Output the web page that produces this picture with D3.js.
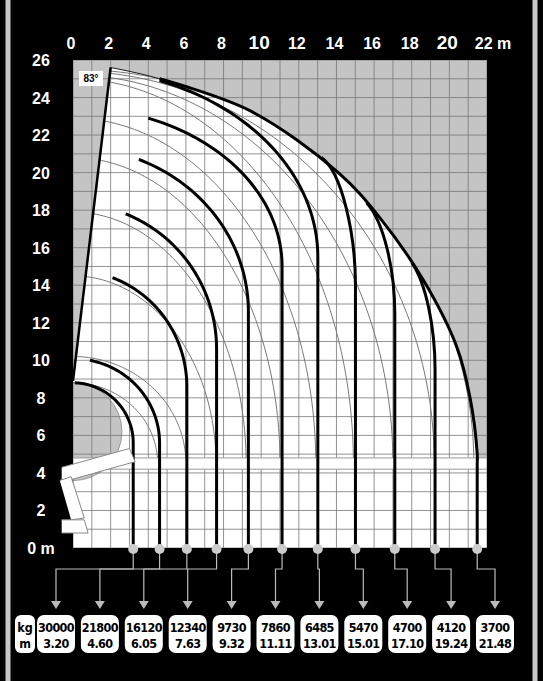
<!DOCTYPE html>
<html><head><meta charset="utf-8">
<script src="https://cdn.jsdelivr.net/npm/d3@7"></script>
<style>body{margin:0;background:#000}</style>
</head><body>
<script>
// load chart data (radius m, load kg)
var loads = [30000, 21800, 16120, 12340, 9730, 7860, 6485, 5470, 4700, 4120, 3700];
var radii = [3.20, 4.60, 6.05, 7.63, 9.32, 11.11, 13.01, 15.01, 17.10, 19.24, 21.48];
// where each thick curve starts (x, y) and where it turns vertical (y)
var startX = [0.1, 0.9, 2.1, 2.8, 3.5, 4.0, 4.6, 13.2, 15.6, 18.0, 4.6];
var startY = [8.8, 10.0, 14.4, 17.8, 20.7, 22.9, 24.9, 20.8, 18.4, 15.2, 25.0];
var kneeY  = [5.6, 5.6, 8.6, 10.6, 12.6, 15.0, 15.5, 14.0, 12.5, 9.5, 4.5];
// outer envelope (x, y)
var envX = [2.0, 4.6, 9.4, 14.1, 16.3, 18.6, 20.4, 21.1, 21.48, 21.48];
var envY = [25.6, 25.0, 23.3, 20.0, 17.6, 14.3, 10.7, 8.0, 5.0, 4.5];
// thin boom-length arcs: top height, reach at band height
var arcTop = [8.8, 10.2, 14.5, 17.9, 20.8, 22.9, 25.0, 25.2, 25.4, 25.5];
var arcReach = [4.5, 6.0, 7.6, 9.2, 11.0, 12.9, 14.9, 17.0, 19.2, 21.3];
var xTicks = [0, 2, 4, 6, 8, 10, 12, 14, 16, 18, 20, 22];
var yTicks = [26, 24, 22, 20, 18, 16, 14, 12, 10, 8, 6, 4, 2, 0];
var boomTip = [2.0, 25.6], boomBase = [0, 8.9], bandY = 4.5;

var W = 543, H = 681;
var svg = d3.select("body").append("svg").attr("width", W).attr("height", H);
svg.append("rect").attr("width", W).attr("height", H).attr("fill", "#000");
svg.append("rect").attr("x", 8).attr("y", -5).attr("width", 527).attr("height", H + 10)
  .attr("fill", "none").attr("stroke", "#c8c8c8").attr("stroke-width", 5);

var x = d3.scaleLinear().domain([0, 22]).range([73, 487]);
var y = d3.scaleLinear().domain([0, 26]).range([548, 60]);

function ellipse(cx, cy, rx, ry, a0, a1, n) {
  var pts = [];
  for (var i = 0; i <= n; i++) {
    var a = a0 + (a1 - a0) * i / n;
    pts.push([cx + rx * Math.cos(a), cy + ry * Math.sin(a)]);
  }
  return pts;
}
var line = d3.line().x(function (d) { return x(d[0]); }).y(function (d) { return y(d[1]); });
var curve = d3.line().x(function (d) { return x(d[0]); }).y(function (d) { return y(d[1]); })
  .curve(d3.curveCatmullRom);
var env = envX.map(function (v, i) { return [v, envY[i]]; });
var envPath = curve(env);
var areaPath = "M" + x(0) + "," + y(0) + "L" + x(boomBase[0]) + "," + y(boomBase[1]) +
  "L" + envPath.slice(1) + "L" + x(22) + "," + y(bandY) + "L" + x(22) + "," + y(0) + "Z";

var defs = svg.append("defs");
defs.append("clipPath").attr("id", "plot").append("rect")
  .attr("x", x(0)).attr("y", y(26)).attr("width", x(22) - x(0)).attr("height", y(0) - y(26));
defs.append("clipPath").attr("id", "work").append("path").attr("d", areaPath);
var plot = svg.append("g").attr("clip-path", "url(#plot)");

// grey background + white working area
plot.append("rect").attr("x", x(0)).attr("y", y(26)).attr("width", x(22) - x(0))
  .attr("height", y(0) - y(26)).attr("fill", "#c4c4c4");
plot.append("path").attr("d", areaPath).attr("fill", "#fff");
// counterweight
plot.append("circle").attr("cx", x(0)).attr("cy", y(6.2)).attr("r", x(2.6) - x(0))
  .attr("fill", "#c4c4c4").attr("stroke", "#999");

// grid
var g = plot.append("g").attr("stroke", "#777").attr("stroke-width", 0.8);
d3.range(0, 23).forEach(function (v) {
  g.append("line").attr("x1", x(v)).attr("x2", x(v)).attr("y1", y(26)).attr("y2", y(0));
});
d3.range(0, 27).forEach(function (v) {
  g.append("line").attr("x1", x(0)).attr("x2", x(22)).attr("y1", y(v)).attr("y2", y(v));
});

// thin arcs
var work = plot.append("g").attr("clip-path", "url(#work)");
arcTop.forEach(function (t, i) {
  var pts = ellipse(0, bandY, arcReach[i], t - bandY, Math.PI / 2, 0, 80);
  work.append("path").attr("d", line(pts)).attr("fill", "none").attr("stroke", "#777").attr("stroke-width", 1);
});
plot.append("path").attr("d", envPath).attr("fill", "none").attr("stroke", "#222").attr("stroke-width", 1.2);

// band at 4.5 m
plot.append("rect").attr("x", x(0)).attr("y", y(bandY + 0.3)).attr("width", x(22) - x(0))
  .attr("height", y(bandY - 0.3) - y(bandY + 0.3)).attr("fill", "#fff").attr("stroke", "#999");

// boom line
svg.append("path").attr("d", line([boomBase, boomTip])).attr("stroke", "#000").attr("stroke-width", 2.5);

// thick load curves
function envSlope(px) {
  var i = d3.bisectLeft(envX, px);
  i = Math.max(1, Math.min(envX.length - 2, i));
  return (envY[i] - envY[i - 1]) / (envX[i] - envX[i - 1]);
}
radii.forEach(function (r, i) {
  var d;
  if (i === radii.length - 1) {
    d = curve(env.filter(function (p) { return p[0] >= startX[i]; }));
    d += "L" + x(r) + "," + y(0);
  } else if (startX[i] > 10) {
    var s = envSlope(startX[i]);
    var dx = 0.6 * (r - startX[i]);
    var p1 = [startX[i] + dx, Math.max(kneeY[i] + 1, startY[i] + s * dx)];
    var p2 = [r, kneeY[i] + 0.4 * (startY[i] - kneeY[i])];
    var p = d3.path();
    p.moveTo(x(startX[i]), y(startY[i]));
    p.bezierCurveTo(x(p1[0]), y(p1[1]), x(p2[0]), y(p2[1]), x(r), y(kneeY[i]));
    p.lineTo(x(r), y(0));
    d = p.toString();
  } else {
    var a0 = Math.acos(Math.min(1, startX[i] / r));
    var ry = (startY[i] - kneeY[i]) / Math.sin(a0);
    var pts = ellipse(0, kneeY[i], r, ry, a0, 0, 50);
    pts.push([r, 0]);
    d = line(pts);
  }
  svg.append("path").attr("d", d).attr("fill", "none").attr("stroke", "#000").attr("stroke-width", 3);
});

// crane silhouette
svg.append("path").attr("d", line([[-0.6, 3.5], [3.3, 4.6], [3.0, 5.3], [-0.6, 4.3]])).attr("fill", "#fff").attr("stroke", "#888");
svg.append("path").attr("d", line([[-0.7, 3.6], [-0.1, 3.8], [0.6, 1.6], [-0.1, 1.5]])).attr("fill", "#fff").attr("stroke", "#888");
svg.append("path").attr("d", line([[-0.6, 1.5], [0.6, 1.5], [0.8, 0.8], [-0.6, 0.8]])).attr("fill", "#fff").attr("stroke", "#888");

// 83 deg label
svg.append("rect").attr("x", 79).attr("y", 71).attr("width", 24).attr("height", 15).attr("fill", "#fff");
svg.append("text").attr("x", 91).attr("y", 82).attr("text-anchor", "middle")
  .attr("font-family", "Liberation Sans").attr("font-weight", "bold").attr("font-size", 10).text("83°");

// axis labels
var lab = svg.append("g").attr("fill", "#fff").attr("font-family", "Liberation Sans")
  .attr("font-weight", "bold").attr("text-anchor", "middle");
xTicks.forEach(function (v) {
  lab.append("text").attr("x", x(v) - 2 + (v === 22 ? 8 : 0)).attr("y", 49)
    .attr("font-size", v >= 10 && v % 10 === 0 ? 19 : 16).text(v === 22 ? "22 m" : v);
});
yTicks.forEach(function (v) {
  lab.append("text").attr("x", 41).attr("y", y(v) + 6).attr("font-size", 16)
    .text(v === 0 ? "0 m" : v);
});

// connectors and boxes
var boxFont = "DejaVu Sans Condensed";
var boxX = d3.scaleLinear().domain([0, 10]).range([56, 495]);
radii.forEach(function (r, i) {
  var cx = x(r), bx = boxX(i), yk = 569;
  svg.append("path").attr("d", "M" + cx + "," + 550 + "V" + yk + "H" + bx + "V" + 606)
    .attr("fill", "none").attr("stroke", "#bbb").attr("stroke-width", 1.2);
  svg.append("path").attr("d", "M" + (bx - 5) + ",601L" + (bx + 5) + ",601L" + bx + ",609Z").attr("fill", "#bbb");
  svg.append("circle").attr("cx", cx).attr("cy", 549).attr("r", 5).attr("fill", "#ccc");
  svg.append("rect").attr("x", bx - 19).attr("y", 615).attr("width", 38).attr("height", 38)
    .attr("rx", 7).attr("fill", "#fff");
  var t = svg.append("g").attr("font-family", boxFont).attr("font-weight", "bold")
    .attr("font-size", 12.5).attr("text-anchor", "middle").attr("letter-spacing", -0.6);
  t.append("text").attr("x", bx).attr("y", 632).text(loads[i]);
  t.append("text").attr("x", bx).attr("y", 648).text(r.toFixed(2));
});
svg.append("rect").attr("x", 15).attr("y", 615).attr("width", 20).attr("height", 38).attr("rx", 6).attr("fill", "#fff");
var u = svg.append("g").attr("font-family", boxFont).attr("font-weight", "bold")
  .attr("font-size", 12.5).attr("text-anchor", "middle");
u.append("text").attr("x", 25).attr("y", 632).text("kg");
u.append("text").attr("x", 25).attr("y", 648).text("m");
</script>
</body></html>
